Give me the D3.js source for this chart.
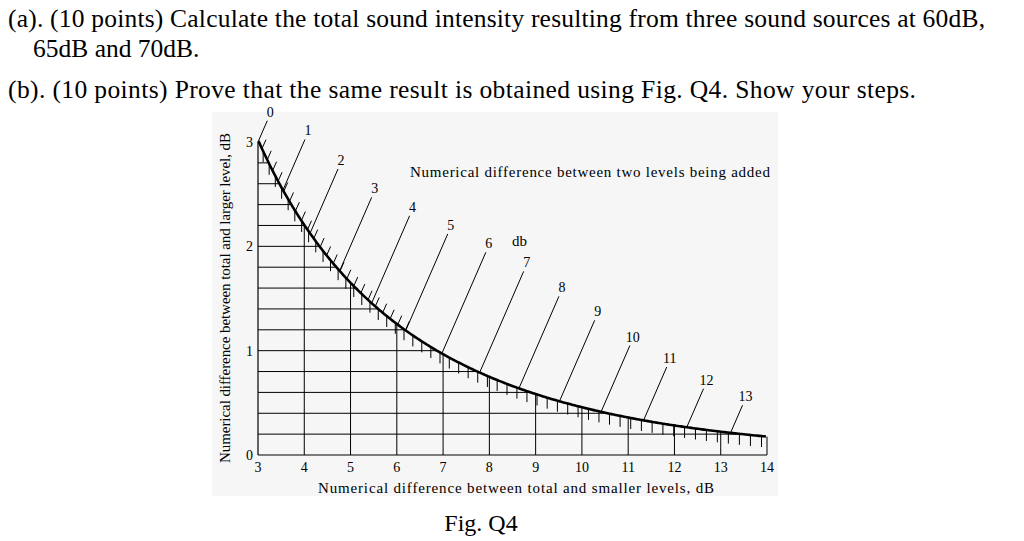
<!DOCTYPE html>
<html><head><meta charset="utf-8">
<script src="https://cdn.jsdelivr.net/npm/d3@7"></script>
<style>body{margin:0;background:#fff}text{font-family:"Liberation Serif","Times New Roman",serif}</style>
</head><body>
<script>
// data
const diffLabels = [0, 1, 2, 3, 4, 5, 6, 7, 8, 9, 10, 11, 12, 13];
const leaderLen = [22, 55, 70, 80, 95, 105, 110, 110, 100, 88, 72, 58, 42, 30];
const xTicks = [3, 4, 5, 6, 7, 8, 9, 10, 11, 12, 13, 14];
const yTicks = [0, 1, 2, 3];
const gridStep = 0.2;
const maxDiff = 13.8;

const width = 1024, height = 541;
const svg = d3.select('body').append('svg').attr('width', width).attr('height', height);

// question text
svg.append('text').attr('x', 8).attr('y', 27).attr('font-size', 25.5).attr('textLength', 977)
  .text('(a). (10 points) Calculate the total sound intensity resulting from three sound sources at 60dB,');
svg.append('text').attr('x', 33).attr('y', 57).attr('font-size', 25.5).text('65dB and 70dB.');
svg.append('text').attr('x', 8).attr('y', 98).attr('font-size', 25.5).attr('textLength', 908)
  .text('(b). (10 points) Prove that the same result is obtained using Fig. Q4. Show your steps.');

svg.append('rect').attr('x', 212).attr('y', 112).attr('width', 566).attr('height', 384).attr('fill', '#f6f6f6');

const x = d3.scaleLinear().domain([3, 14]).range([258, 767]);
const y = d3.scaleLinear().domain([0, 3]).range([455, 142]);

// curve: D = larger - smaller, yv = total - larger, xv = total - smaller
const yOf = D => 10 * Math.log10(1 + Math.pow(10, -D / 10));
const pt = D => ({ D, yv: yOf(D), xv: D + yOf(D) });
const curvePts = d3.range(0, maxDiff + 0.001, 0.05).map(pt);
const xAtY = yv => { const D = -10 * Math.log10(Math.pow(10, yv / 10) - 1); return D + yv; };
const yAtX = xv => { let lo = 0, hi = 20; for (let i = 0; i < 50; i++) { const m = (lo + hi) / 2; if (m + yOf(m) < xv) lo = m; else hi = m; } return yOf(lo); };

const g = svg.append('g').attr('stroke', '#000').attr('fill', 'none');
// horizontal grid
d3.range(1, 15).map(i => i * gridStep).forEach(v => {
  g.append('line').attr('x1', x(3)).attr('x2', x(Math.min(14, xAtY(v)))).attr('y1', y(v)).attr('y2', y(v)).attr('stroke-width', 1);
});
// vertical grid
xTicks.slice(1).forEach(v => {
  g.append('line').attr('x1', x(v)).attr('x2', x(v)).attr('y1', y(0)).attr('y2', y(yAtX(v))).attr('stroke-width', 1);
});
// axes
g.append('line').attr('x1', x(3)).attr('x2', x(3)).attr('y1', y(0)).attr('y2', y(3)).attr('stroke-width', 1.2);
g.append('line').attr('x1', x(3)).attr('x2', x(14)).attr('y1', y(0)).attr('y2', y(0)).attr('stroke-width', 1.2);

// hatch ticks below the curve
d3.range(0.2, maxDiff, 0.25).map(pt).forEach(p => {
  g.append('line').attr('x1', x(p.xv)).attr('x2', x(p.xv)).attr('y1', y(p.yv)).attr('y2', y(p.yv) + 11).attr('stroke-width', 1);
});
// slanted hatch above the curve
d3.range(0.15, 5, 0.22).map(pt).forEach(p => {
  g.append('line').attr('x1', x(p.xv)).attr('x2', x(p.xv) + 4).attr('y1', y(p.yv)).attr('y2', y(p.yv) - 9).attr('stroke-width', 1);
});

// curve
g.append('path').datum(curvePts)
  .attr('d', d3.line().x(p => x(p.xv)).y(p => y(p.yv)).curve(d3.curveBasis))
  .attr('stroke-width', 2.6);

// leader lines and labels
diffLabels.forEach((D, i) => {
  const p = pt(D), L = leaderLen[i];
  const x0 = x(p.xv), y0 = y(p.yv);
  const x1 = x0 + L * 0.4, y1 = y0 - L * 0.92;
  g.append('line').attr('x1', x0).attr('y1', y0).attr('x2', x1).attr('y2', y1).attr('stroke-width', 1);
  svg.append('text').attr('x', x1 + 3).attr('y', y1 - 4).attr('font-size', 14).attr('text-anchor', 'middle').text(D);
});

// axis labels
xTicks.forEach(v => svg.append('text').attr('x', x(v)).attr('y', 472).attr('font-size', 14).attr('text-anchor', 'middle').text(v));
yTicks.forEach(v => svg.append('text').attr('x', x(3) - 5).attr('y', y(v) + 5).attr('font-size', 14).attr('text-anchor', 'end').text(v));

svg.append('text').attr('x', 516).attr('y', 493).attr('font-size', 15).attr('text-anchor', 'middle').attr('textLength', 396)
  .text('Numerical difference between total and smaller levels, dB');
svg.append('text').attr('transform', 'translate(230,298) rotate(-90)').attr('font-size', 15).attr('text-anchor', 'middle').attr('textLength', 330)
  .text('Numerical difference between total and larger level, dB');
svg.append('text').attr('x', 410).attr('y', 177).attr('font-size', 15).attr('textLength', 360)
  .text('Numerical difference between two  levels being added');
svg.append('text').attr('x', 512).attr('y', 246).attr('font-size', 15).text('db');
svg.append('text').attr('x', 481).attr('y', 531).attr('font-size', 24).attr('text-anchor', 'middle').text('Fig. Q4');
</script>
</body></html>
